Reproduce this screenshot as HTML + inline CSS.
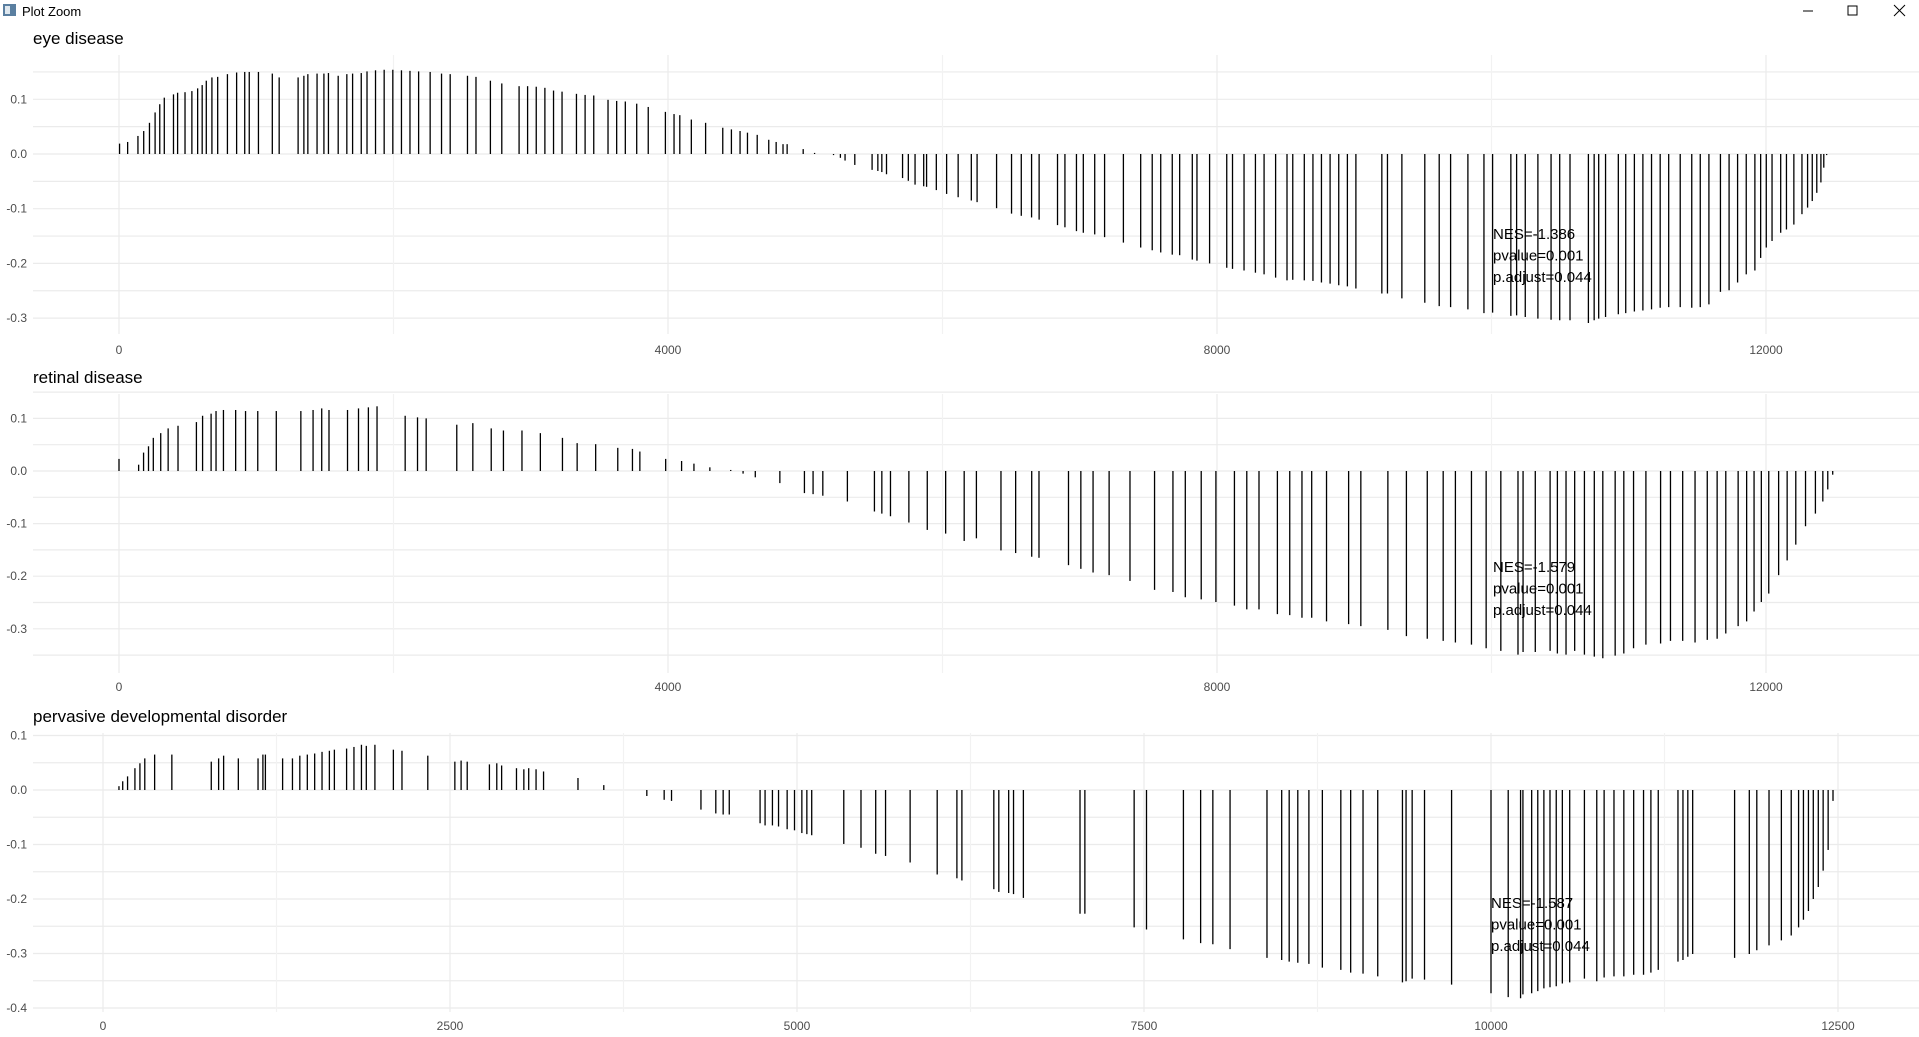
<!DOCTYPE html>
<html><head><meta charset="utf-8">
<style>
body{margin:0;background:#fff;width:1919px;height:1037px;overflow:hidden;font-family:"Liberation Sans",sans-serif;}
svg{position:absolute;left:0;top:0}
</style></head>
<body>
<svg id="chart" width="1919" height="1037" xmlns="http://www.w3.org/2000/svg">
<g>
<rect x="3" y="4" width="13" height="12" fill="#5a7fa0"/>
<rect x="5" y="6" width="5" height="8" fill="#dfe8ef"/>
<text x="22" y="16" font-size="13" fill="#000">Plot Zoom</text>
<line x1="1803" y1="11" x2="1813" y2="11" stroke="#000"/>
<rect x="1848" y="6" width="9" height="9" fill="none" stroke="#000"/>
<path d="M1894 5 L1905 16 M1905 5 L1894 16" stroke="#000"/>
</g>
<g id="p1"></g>
<g id="p2"></g>
<g id="p3"></g>
</svg>
<script>
const ranks1=[4,63,138,180,222,263,297,330,397,427,481,531,573,606,636,677,719,790,857,916,949,1016,1117,1167,1305,1347,1376,1443,1493,1526,1597,1660,1702,1765,1807,1869,1932,1995,2058,2120,2183,2267,2350,2413,2539,2601,2706,2789,2915,2977,3040,3103,3166,3228,3333,3396,3459,3563,3626,3689,3772,3856,3981,4044,4086,4170,4274,4399,4462,4525,4579,4650,4734,4788,4838,4868,4985,5068,5139,5206,5256,5290,5361,5487,5529,5558,5592,5709,5751,5800,5863,5884,5955,6030,6114,6210,6252,6394,6503,6574,6649,6704,6838,6892,6976,7026,7109,7181,7318,7444,7528,7590,7674,7728,7820,7854,7946,8071,8113,8197,8280,8343,8427,8510,8552,8636,8699,8761,8824,8887,8950,9012,9201,9242,9347,9514,9619,9702,9828,9945,10008,10141,10183,10246,10338,10434,10497,10572,10706,10748,10781,10831,10924,10978,11041,11103,11166,11229,11291,11375,11459,11521,11584,11668,11731,11793,11856,11919,11961,12002,12044,12107,12149,12203,12262,12303,12337,12370,12400,12421,12442];
const es1=[0.019,0.022,0.033,0.042,0.057,0.076,0.091,0.103,0.109,0.112,0.113,0.115,0.12,0.126,0.134,0.14,0.141,0.146,0.149,0.15,0.15,0.15,0.147,0.14,0.14,0.143,0.146,0.147,0.147,0.148,0.143,0.146,0.147,0.148,0.151,0.153,0.154,0.154,0.153,0.152,0.151,0.15,0.147,0.146,0.143,0.141,0.134,0.129,0.124,0.124,0.123,0.121,0.116,0.114,0.11,0.108,0.107,0.099,0.097,0.096,0.092,0.086,0.077,0.073,0.071,0.063,0.057,0.048,0.045,0.042,0.039,0.035,0.026,0.022,0.018,0.018,0.009,0.002,0,-0.002,-0.007,-0.012,-0.02,-0.029,-0.031,-0.033,-0.037,-0.044,-0.049,-0.056,-0.059,-0.06,-0.066,-0.073,-0.079,-0.085,-0.088,-0.099,-0.109,-0.113,-0.116,-0.12,-0.13,-0.134,-0.141,-0.144,-0.147,-0.152,-0.162,-0.171,-0.176,-0.18,-0.184,-0.185,-0.193,-0.195,-0.2,-0.208,-0.21,-0.213,-0.217,-0.22,-0.226,-0.231,-0.23,-0.231,-0.232,-0.235,-0.237,-0.24,-0.242,-0.246,-0.255,-0.255,-0.264,-0.272,-0.278,-0.28,-0.284,-0.291,-0.29,-0.296,-0.295,-0.298,-0.301,-0.303,-0.304,-0.304,-0.309,-0.304,-0.301,-0.298,-0.293,-0.291,-0.288,-0.286,-0.284,-0.281,-0.28,-0.28,-0.281,-0.28,-0.275,-0.252,-0.249,-0.235,-0.22,-0.213,-0.19,-0.171,-0.159,-0.144,-0.138,-0.129,-0.11,-0.098,-0.086,-0.071,-0.052,-0.025,-0.002];
const ranks2=[0,143,179,215,250,304,358,430,564,609,671,707,761,850,922,1011,1146,1325,1414,1477,1530,1665,1745,1817,1880,2085,2175,2238,2461,2578,2712,2801,2936,3070,3231,3338,3473,3634,3741,3795,3983,4099,4189,4305,4457,4547,4636,4815,4994,5057,5128,5307,5504,5558,5621,5755,5889,6023,6158,6247,6426,6533,6650,6703,6918,7008,7097,7214,7366,7545,7679,7769,7885,7992,8127,8217,8306,8440,8530,8619,8690,8798,8959,9048,9245,9380,9532,9648,9737,9854,9961,10068,10193,10230,10319,10427,10480,10543,10606,10677,10749,10811,10901,10964,11035,11125,11232,11304,11393,11483,11572,11644,11707,11797,11859,11913,11966,12020,12092,12154,12217,12288,12360,12414,12450,12486];
const es2=[0.023,0.012,0.035,0.047,0.063,0.072,0.081,0.086,0.093,0.105,0.109,0.114,0.116,0.116,0.114,0.114,0.114,0.114,0.116,0.119,0.116,0.116,0.119,0.121,0.123,0.105,0.102,0.1,0.088,0.091,0.081,0.077,0.077,0.072,0.063,0.053,0.051,0.044,0.042,0.037,0.023,0.019,0.014,0.007,0.002,-0.005,-0.012,-0.023,-0.042,-0.044,-0.047,-0.058,-0.077,-0.081,-0.086,-0.098,-0.112,-0.119,-0.133,-0.128,-0.151,-0.156,-0.163,-0.165,-0.179,-0.186,-0.193,-0.198,-0.209,-0.226,-0.23,-0.24,-0.244,-0.249,-0.256,-0.263,-0.263,-0.272,-0.274,-0.279,-0.279,-0.286,-0.291,-0.295,-0.302,-0.314,-0.319,-0.323,-0.326,-0.33,-0.337,-0.342,-0.349,-0.344,-0.344,-0.342,-0.347,-0.349,-0.342,-0.349,-0.353,-0.356,-0.351,-0.347,-0.337,-0.33,-0.328,-0.323,-0.323,-0.326,-0.321,-0.319,-0.309,-0.295,-0.286,-0.267,-0.249,-0.233,-0.198,-0.17,-0.14,-0.105,-0.081,-0.058,-0.035,-0.007];
const ranks3=[115,142,177,230,266,301,372,496,780,833,869,975,1117,1152,1170,1294,1365,1418,1472,1525,1578,1631,1667,1755,1808,1862,1897,1959,2092,2154,2340,2535,2580,2624,2784,2837,2872,2979,3032,3067,3120,3174,3422,3608,3918,4043,4096,4308,4415,4468,4512,4734,4770,4823,4867,4929,4982,5035,5071,5106,5337,5461,5567,5638,5815,6010,6152,6188,6418,6454,6525,6560,6631,7039,7074,7429,7518,7784,7908,7996,8120,8386,8492,8546,8608,8688,8785,8918,8989,9078,9184,9362,9388,9432,9521,9716,10000,10124,10213,10230,10293,10337,10381,10425,10470,10514,10567,10673,10762,10815,10886,10957,11028,11099,11152,11205,11347,11383,11418,11453,11755,11861,11915,12003,12092,12163,12216,12251,12287,12322,12358,12393,12429,12464];
const es3=[0.007,0.016,0.025,0.04,0.049,0.058,0.065,0.065,0.052,0.058,0.063,0.058,0.058,0.065,0.065,0.058,0.058,0.063,0.065,0.067,0.07,0.072,0.074,0.076,0.079,0.083,0.081,0.083,0.074,0.072,0.063,0.052,0.054,0.052,0.047,0.049,0.045,0.04,0.038,0.04,0.038,0.034,0.022,0.009,-0.011,-0.018,-0.02,-0.036,-0.043,-0.045,-0.045,-0.061,-0.065,-0.065,-0.067,-0.072,-0.074,-0.079,-0.081,-0.083,-0.099,-0.106,-0.117,-0.121,-0.133,-0.155,-0.162,-0.166,-0.182,-0.187,-0.189,-0.191,-0.198,-0.227,-0.227,-0.252,-0.256,-0.274,-0.281,-0.283,-0.292,-0.308,-0.312,-0.315,-0.317,-0.319,-0.326,-0.33,-0.335,-0.337,-0.342,-0.353,-0.351,-0.346,-0.348,-0.357,-0.373,-0.38,-0.382,-0.375,-0.373,-0.369,-0.364,-0.362,-0.36,-0.355,-0.353,-0.346,-0.351,-0.344,-0.342,-0.342,-0.339,-0.339,-0.335,-0.33,-0.315,-0.312,-0.306,-0.301,-0.308,-0.301,-0.294,-0.285,-0.276,-0.267,-0.252,-0.238,-0.222,-0.2,-0.178,-0.148,-0.11,-0.02];
const yTicks12=["0.1","0.0","-0.1","-0.2","-0.3"];
const yTicks3=["0.1","0.0","-0.1","-0.2","-0.3","-0.4"];
const xTicks12=["0","4000","8000","12000"];
const xTicks3=["0","2500","5000","7500","10000","12500"];
const titles=["eye disease","retinal disease","pervasive developmental disorder"];
const nes=["NES=-1.386","NES=-1.579","NES=-1.587"];
const pvals=["pvalue=0.001","pvalue=0.001","pvalue=0.001"];
const padj=["p.adjust=0.044","p.adjust=0.044","p.adjust=0.044"];

const NS="http://www.w3.org/2000/svg";
function mk(parent,tag,attrs){const e=document.createElementNS(NS,tag);for(const k in attrs)e.setAttribute(k,attrs[k]);parent.appendChild(e);return e;}

const cfg=[
 {g:'p1',x0:119,xs:0.13725,y0:154,ys:547,yTop:0.15,yBot:-0.3,vTop:55,vBot:334,xStep:2000,xMaj:4000,xMax:13000,tickLab:xTicks12,tickVals:[0,4000,8000,12000],yLab:yTicks12,yVals:[0.1,0,-0.1,-0.2,-0.3],labY:354,titleY:44,ann:[1493,239],r:ranks1,e:es1},
 {g:'p2',x0:119,xs:0.13725,y0:471,ys:526,yTop:0.15,yBot:-0.35,vTop:394,vBot:673,xStep:2000,xMaj:4000,xMax:13000,tickLab:xTicks12,tickVals:[0,4000,8000,12000],yLab:yTicks12,yVals:[0.1,0,-0.1,-0.2,-0.3],labY:691,titleY:383,ann:[1493,572],r:ranks2,e:es2},
 {g:'p3',x0:103,xs:0.1388,y0:790,ys:545,yTop:0.1,yBot:-0.4,vTop:733,vBot:1012,xStep:1250,xMaj:2500,xMax:13000,tickLab:xTicks3,tickVals:[0,2500,5000,7500,10000,12500],yLab:yTicks3,yVals:[0.1,0,-0.1,-0.2,-0.3,-0.4],labY:1030,titleY:722,ann:[1491,908],r:ranks3,e:es3}
];
cfg.forEach((c,i)=>{
 const g=document.getElementById(c.g);
 const X=v=>c.x0+v*c.xs, Y=v=>c.y0-v*c.ys;
 // horizontal grid
 for(let k=0;;k++){const v=c.yTop-k*0.05; if(v<c.yBot-1e-9)break;
  const l=mk(g,'line',{x1:33,x2:1919,y1:Y(v),y2:Y(v),stroke:'#ebebeb','stroke-width':1.2});
  
  }
 for(let v=0;v<=c.xMax;v+=c.xStep){const x=X(v); if(x>1919)break;
  const l=mk(g,'line',{x1:x,x2:x,y1:c.vTop,y2:c.vBot,stroke:(v%c.xMaj===0)?'#ebebeb':'#f2f2f2','stroke-width':1.2});
  
  }
 // bars
 c.r.forEach((r,j)=>{
  const b=mk(g,'line',{x1:X(r),x2:X(r),y1:Y(0),y2:Y(c.e[j]),stroke:'#000','stroke-width':1.3});
  
  });
 // y ticks
 c.yLab.forEach((t,j)=>{
  const tx=mk(g,'text',{x:27,y:Y(c.yVals[j])+4,'text-anchor':'end','font-size':12,fill:'#4d4d4d'});
  tx.textContent=t;
  
  });
 c.tickLab.forEach((t,j)=>{
  const tx=mk(g,'text',{x:X(c.tickVals[j]),y:c.labY,'text-anchor':'middle','font-size':12,fill:'#4d4d4d'});
  tx.textContent=t;
  
  });
 const tt=mk(g,'text',{x:33,y:c.titleY,'font-size':17,fill:'#000'});
 tt.textContent=titles[i];
 
 
 [nes[i],pvals[i],padj[i]].forEach((s,j)=>{
  const a=mk(g,'text',{x:c.ann[0],y:c.ann[1]+j*21.5,'font-size':15,fill:'#000'});
  a.textContent=s;
  
  });
});
</script>
</body></html>
